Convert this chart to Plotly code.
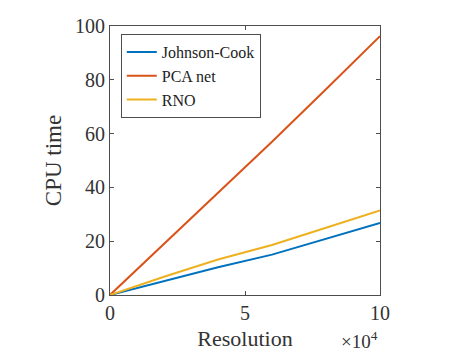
import plotly.graph_objects as go

resolution = [0, 20000, 40000, 60000, 80000, 100000]
johnson_cook = [0, 5.2, 10.3, 15.0, 21.0, 26.8]
pca_net = [0, 19.0, 38.0, 57.0, 76.5, 96.2]
rno = [0, 6.8, 13.2, 18.6, 25.0, 31.4]

series = [("Johnson-Cook", johnson_cook, "#0072BD"),
          ("PCA net", pca_net, "#D95319"),
          ("RNO", rno, "#EDB120")]

fig = go.Figure()
for name, vals, col in series:
    fig.add_trace(go.Scatter(x=resolution, y=vals, mode="lines", name=name,
                             line=dict(color=col, width=2)))

font = "Liberation Serif, DejaVu Serif, serif"
axcol = "#4d4d4d"
txtcol = "#333333"
fig.update_layout(
    width=474, height=355,
    margin=dict(l=102, r=102, t=18, b=68),
    paper_bgcolor="white", plot_bgcolor="white",
    font=dict(family=font, color=txtcol, size=20),
    showlegend=True,
    legend=dict(x=0.04, y=0.97, xanchor="left", yanchor="top",
                bgcolor="white", bordercolor=axcol, borderwidth=1,
                font=dict(family=font, size=16, color="#222222"),
                tracegroupgap=0),
)
fig.update_xaxes(range=[0, 100000], tickvals=[0, 50000, 100000], ticktext=["0", "5", "10"],
                 ticks="inside", ticklen=4, tickcolor=axcol, mirror="allticks", automargin=False,
                 showline=True, linecolor=axcol, linewidth=1, showgrid=False, zeroline=False,
                 title=dict(text="Resolution", font=dict(size=22, color=txtcol), standoff=7),
                 tickfont=dict(size=20, color=txtcol))
fig.update_yaxes(range=[0, 100], tickvals=[0, 20, 40, 60, 80, 100],
                 ticks="inside", ticklen=4, tickcolor=axcol, mirror="allticks", automargin=False,
                 showline=True, linecolor=axcol, linewidth=1, showgrid=False, zeroline=False,
                 title=dict(text="CPU time", font=dict(size=23, color=txtcol), standoff=6),
                 tickfont=dict(size=20, color=txtcol))
fig.add_annotation(x=1.0, y=-0.115, xref="paper", yref="paper", xanchor="right", yanchor="top",
                   text="×10<sup>4</sup>", showarrow=False,
                   font=dict(family=font, size=19, color=txtcol))
fig.write_html("out.html")
